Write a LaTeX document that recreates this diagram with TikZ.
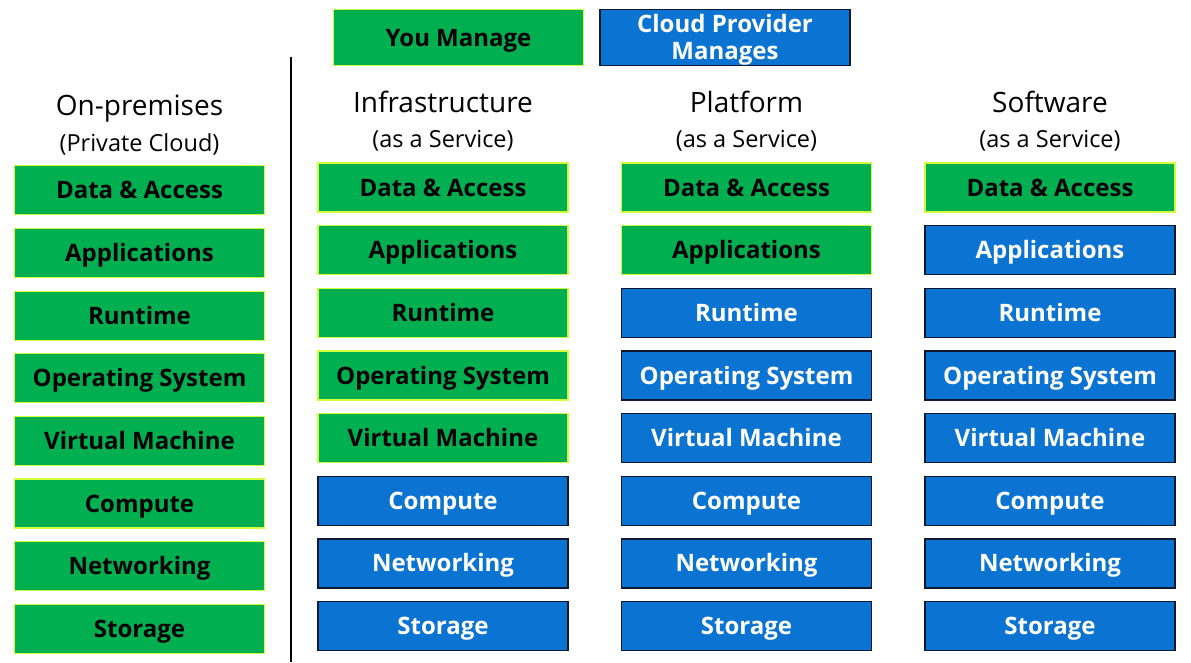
\documentclass[tikz,border=0pt]{standalone}
\usepackage{fontspec}
\setmainfont{Open Sans}
\definecolor{mgreen}{HTML}{00B050}
\definecolor{mgreenedge}{HTML}{D2FF3A}
\definecolor{mblue}{HTML}{0B74D2}
\definecolor{mblueedge}{HTML}{101830}
\begin{document}
\begin{tikzpicture}[x=1pt,y=-1pt,
  layer/.style={minimum width=250pt,minimum height=49pt,inner sep=0pt,line width=1.2pt,
    font=\fontsize{24}{27}\selectfont\bfseries,align=center,text height=17.1pt,text depth=0pt},
  gbox/.style={layer,fill=mgreen,draw=mgreenedge,text=black},
  bbox/.style={layer,fill=mblue,draw=mblueedge,text=white},
  htitle/.style={font=\fontsize{28}{32}\selectfont,inner sep=0pt,text height=20pt,text depth=0pt},
  hsub/.style={font=\fontsize{23.5}{27}\selectfont,inner sep=0pt,text height=16.8pt,text depth=0pt}]
\useasboundingbox (0,0) rectangle (1191,662);
% legend
\node[gbox,minimum height=56pt] (youm) at (458.5,37.5) {You Manage};
\node[bbox,minimum height=56pt,text height=,text depth=,font=\fontsize{24}{27.5}\selectfont\bfseries] (cpm) at (725,37.5) {\rule{0pt}{23pt}Cloud Provider\\Manages};
% separator
\coordinate (septop) at (291,57);
\coordinate (sepbot) at (291,662);
\draw[line width=1.3pt] (septop) -- (sepbot);
% headers
\node[htitle] (h1) at (139.5,105) {On-premises};
\node[hsub] (h1s) at (139.5,143) {(Private Cloud)};
\node[htitle] (h2) at (443,102) {Infrastructure};
\node[hsub] (h2s) at (443,139) {(as a Service)};
\node[htitle] (h3) at (746.5,102) {Platform};
\node[hsub] (h3s) at (746.5,139) {(as a Service)};
\node[htitle] (h4) at (1050,102) {Software};
\node[hsub] (h4s) at (1050,139) {(as a Service)};
% layers
\foreach \c/\x/\y/\ng in {1/139.5/190.3/8, 2/443/187.5/5, 3/746.5/187.5/2, 4/1050/187.5/1}{
  \foreach \lab [count=\r] in {Data \& Access,Applications,Runtime,Operating System,Virtual Machine,Compute,Networking,Storage}{
    \pgfmathsetmacro{\yy}{\y+(\r-1)*62.65}
    \ifnum\r>\ng
      \node[bbox] (c\c r\r) at (\x,\yy) {\lab};
    \else
      \node[gbox] (c\c r\r) at (\x,\yy) {\lab};
    \fi
  }
}
\end{tikzpicture}
\end{document}
